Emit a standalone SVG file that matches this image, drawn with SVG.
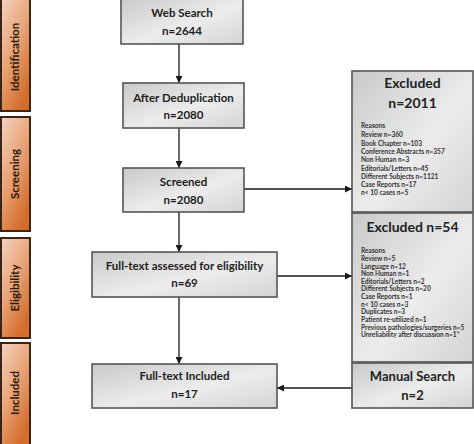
<svg xmlns="http://www.w3.org/2000/svg" width="474" height="444" viewBox="0 0 474 444">
<defs>
<linearGradient id="gbox" x1="0" y1="0" x2="1" y2="1">
<stop offset="0" stop-color="#c9c9c9"/>
<stop offset="0.55" stop-color="#ececec"/>
<stop offset="1" stop-color="#d4d4d4"/>
</linearGradient>
<linearGradient id="gbar" x1="0" y1="0" x2="0.6" y2="1">
<stop offset="0" stop-color="#f3d3c0"/>
<stop offset="0.5" stop-color="#e9a67b"/>
<stop offset="1" stop-color="#d46c2c"/>
</linearGradient>
<marker id="ah" viewBox="0 0 10 10" refX="10" refY="5" markerWidth="7" markerHeight="7" markerUnits="userSpaceOnUse" orient="auto">
<path d="M0,0 L10,5 L0,10 z" fill="#1a1a1a"/>
</marker>
</defs>
<style>
.box{fill:url(#gbox);stroke:#555;stroke-width:1.6}
.bar{fill:url(#gbar);stroke:#3a2418;stroke-width:2}
.t{font-family:Lato,"Liberation Sans",sans-serif;font-weight:bold;fill:#222;text-anchor:middle}
.m{font-size:11.5px}
.big{font-size:14px}
.s{font-family:Lato,"Liberation Sans",sans-serif;font-weight:bold;fill:#333;font-size:6.6px}
.bt{font-family:Lato,"Liberation Sans",sans-serif;font-weight:bold;fill:#2a1a10;font-size:11.5px;text-anchor:middle}
.c{stroke:#1a1a1a;stroke-width:1.3;fill:none}
</style>
<rect width="474" height="444" fill="#fff"/>
<g id="bar-identification"><rect class="bar" x="1" y="-2" width="29" height="113"/><text class="bt" transform="translate(19,57) rotate(-90)">Identification</text></g>
<g id="bar-screening"><rect class="bar" x="1" y="117" width="29" height="114"/><text class="bt" transform="translate(19,174) rotate(-90)">Screening</text></g>
<g id="bar-eligibility"><rect class="bar" x="1" y="238" width="29" height="100"/><text class="bt" transform="translate(19,288) rotate(-90)">Eligibility</text></g>
<g id="bar-included"><rect class="bar" x="1" y="343" width="29" height="103"/><text class="bt" transform="translate(19,393) rotate(-90)">Included</text></g>
<g id="connectors">
<line class="c" x1="179" y1="44" x2="179" y2="83" marker-end="url(#ah)"/>
<line class="c" x1="179" y1="128" x2="179" y2="168" marker-end="url(#ah)"/>
<line class="c" x1="179" y1="212" x2="179" y2="252" marker-end="url(#ah)"/>
<line class="c" x1="179" y1="297" x2="179" y2="364" marker-end="url(#ah)"/>
<line class="c" x1="244" y1="189" x2="352" y2="189" marker-end="url(#ah)"/>
<line class="c" x1="277" y1="276" x2="352" y2="276" marker-end="url(#ah)"/>
<line class="c" x1="352" y1="388" x2="277" y2="388" marker-end="url(#ah)"/>
</g>
<g id="web-search"><rect class="box" x="121" y="-2" width="122" height="46"/><text class="t m" x="182" y="17">Web Search</text><text class="t m" x="182" y="35">n=2644</text></g>
<g id="after-dedup"><rect class="box" x="123" y="83" width="121" height="45"/><text class="t m" x="183.5" y="101.5">After Deduplication</text><text class="t m" x="183.5" y="119">n=2080</text></g>
<g id="screened"><rect class="box" x="123" y="168" width="121" height="44"/><text class="t m" x="183.5" y="186">Screened</text><text class="t m" x="183.5" y="203.5">n=2080</text></g>
<g id="fulltext-assessed"><rect class="box" x="92" y="252" width="185" height="45"/><text class="t m" x="184.5" y="269.5">Full-text assessed for eligibility</text><text class="t m" x="184.5" y="287">n=69</text></g>
<g id="fulltext-included"><rect class="box" x="92" y="364" width="185" height="44"/><text class="t m" x="184.5" y="380">Full-text Included</text><text class="t m" x="184.5" y="397.5">n=17</text></g>
<g id="excluded-2011"><rect class="box" x="352" y="71" width="121" height="141"/>
<text class="t big" x="412.5" y="88">Excluded</text><text class="t big" x="412.5" y="108">n=2011</text>
<text class="s" x="361" y="128">Reasons</text>
<text class="s" x="361" y="137">Review n=360</text>
<text class="s" x="361" y="146">Book  Chapter n=103</text>
<text class="s" x="361" y="154">Conference Abstracts n=357</text>
<text class="s" x="361" y="162">Non Human n=3</text>
<text class="s" x="361" y="170.5">Editorials/Letters n=45</text>
<text class="s" x="361" y="178.5">Different Subjects n=1121</text>
<text class="s" x="361" y="187">Case Reports  n=17</text>
<text class="s" x="361" y="194.5">n&lt; 10 cases n=5</text>
</g>
<g id="excluded-54"><rect class="box" x="352" y="213" width="121" height="149"/>
<text class="t big" x="412.5" y="232">Excluded n=54</text>
<text class="s" x="361" y="253">Reasons</text>
<text class="s" x="361" y="261">Review n=5</text>
<text class="s" x="361" y="268.5">Language n=12</text>
<text class="s" x="361" y="276">Non Human n=1</text>
<text class="s" x="361" y="284">Editorials/Letters n=2</text>
<text class="s" x="361" y="291">Different Subjects n=20</text>
<text class="s" x="361" y="299">Case Reports  n=1</text>
<text class="s" x="361" y="306.5">n&lt; 10 cases n=3</text>
<text class="s" x="361" y="314">Duplicates n=3</text>
<text class="s" x="361" y="322">Patient re-utilized n=1</text>
<text class="s" x="361" y="329.5">Previous pathologies/surgeries n=5</text>
<text class="s" x="361" y="337">Unreliability after discussion n=1*</text>
</g>
<g id="manual-search"><rect class="box" x="352" y="363" width="121" height="45"/><text class="t" style="font-size:13px" x="412.5" y="381">Manual Search</text><text class="t" style="font-size:13px" x="412.5" y="399.5">n=2</text></g>
</svg>
